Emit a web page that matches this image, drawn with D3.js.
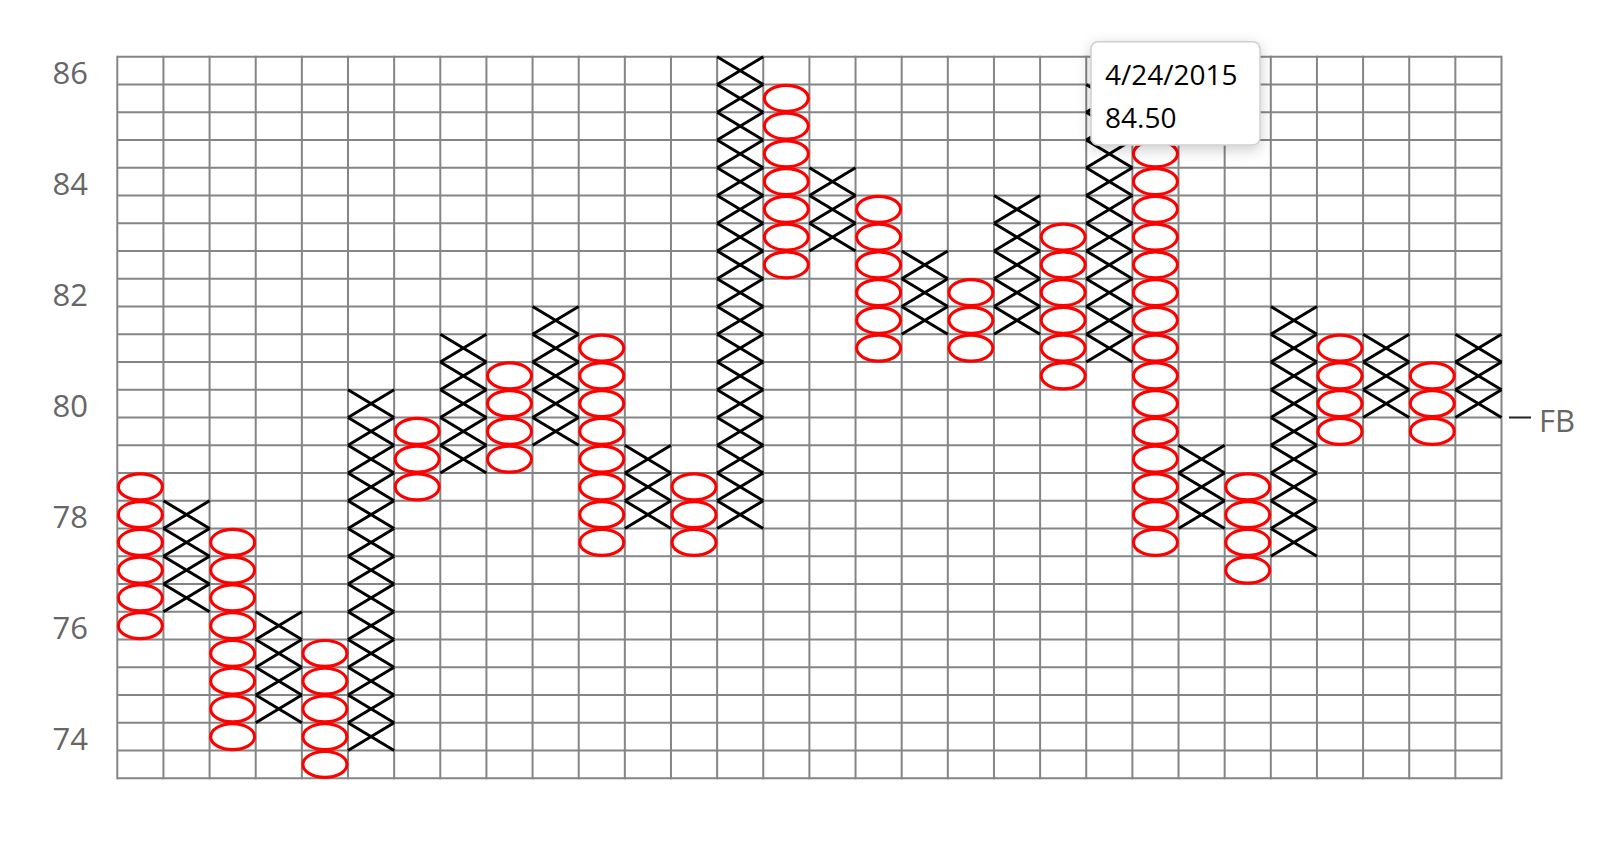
<!DOCTYPE html>
<html>
<head>
<meta charset="utf-8">
<script src="https://cdn.jsdelivr.net/npm/d3@7/dist/d3.min.js"></script>
<style>
  html, body { margin: 0; padding: 0; background: #fff; }
  svg { display: block; }
  text { font-family: "Segoe UI", "Open Sans", "Noto Sans", sans-serif; }
</style>
</head>
<body>
<svg id="chart" width="1604" height="851"></svg>
<script>
// ---- data ----
const seriesName = "FB";
const boxSize = 0.5;
const columnKinds = ["O","X","O","X","O","X","O","X","O","X","O","X","O","X","O","X","O","X","O","X","O","X","O","X","O","X","O","X","O","X"];
const columnHighs = [78.5, 78, 77.5, 76, 75.5, 80, 79.5, 81, 80.5, 81.5, 81, 79, 78.5, 86, 85.5, 84, 83.5, 82.5, 82, 83.5, 83, 85.5, 85, 79, 78.5, 81.5, 81, 81, 80.5, 81];
const columnLows  = [76, 76.5, 74, 74.5, 73.5, 74, 78.5, 79, 79, 79.5, 77.5, 78, 77.5, 78, 82.5, 83, 81, 81.5, 81, 81.5, 80.5, 81, 77.5, 78, 77, 77.5, 79.5, 80, 79.5, 80];
const yTickValues = [74, 76, 78, 80, 82, 84, 86];
const yDomain = [73.25, 86.25];
const lastPrice = 79.75;
const tooltipDate = "4/24/2015";
const tooltipValue = "84.50";

// ---- layout ----
const svg = d3.select("#chart");
const plot = { left: 117.3, right: 1501.5, top: 56.7, bottom: 778.3 };

const x = d3.scaleBand()
  .domain(d3.range(columnKinds.length))
  .range([plot.left, plot.right])
  .padding(0);
const y = d3.scaleLinear().domain(yDomain).range([plot.bottom, plot.top]);
const bw = x.bandwidth();
const bh = Math.abs(y(0) - y(boxSize));

// grid
const gridVals = d3.range(Math.round((yDomain[1] - yDomain[0]) / boxSize) + 1).map(i => yDomain[0] + i * boxSize);
const grid = svg.append("g").attr("stroke", "#858585").attr("stroke-width", 2);
grid.selectAll("line.h").data(gridVals).join("line")
  .attr("x1", plot.left).attr("x2", plot.right)
  .attr("y1", d => y(d)).attr("y2", d => y(d));
const vEdges = x.domain().map(d => x(d)).concat([plot.right]);
grid.selectAll("line.v").data(vEdges).join("line")
  .attr("x1", d => d).attr("x2", d => d)
  .attr("y1", plot.top - 1).attr("y2", plot.bottom + 1);

// y axis labels
svg.append("g").selectAll("text").data(yTickValues).join("text")
  .attr("x", 88).attr("y", d => y(d) + 13.7)
  .attr("text-anchor", "end")
  .attr("font-size", 31)
  .attr("fill", "#666")
  .text(d => d);

// boxes
const boxes = [];
columnKinds.forEach((k, i) => {
  const n = Math.round((columnHighs[i] - columnLows[i]) / boxSize);
  for (let j = 0; j <= n; j++) boxes.push({ col: i, kind: k, v: columnLows[i] + j * boxSize });
});

const marks = svg.append("g");
const xs = boxes.filter(b => b.kind === "X");
const os = boxes.filter(b => b.kind === "O");

marks.selectAll("path.x").data(xs).join("path")
  .attr("fill", "none").attr("stroke", "#000").attr("stroke-width", 3)
  .attr("d", b => {
    const x0 = x(b.col), x1 = x0 + bw;
    const y0 = y(b.v + boxSize / 2), y1 = y(b.v - boxSize / 2);
    return `M${x0},${y0}L${x1},${y1}M${x1},${y0}L${x0},${y1}`;
  });

marks.selectAll("ellipse").data(os).join("ellipse")
  .attr("fill", "none").attr("stroke", "#ff0000").attr("stroke-width", 3.1)
  .attr("cx", b => x(b.col) + bw / 2)
  .attr("cy", b => y(b.v))
  .attr("rx", bw / 2 - 1.1)
  .attr("ry", bh / 2 - 0.9);

// series end label
const ly = y(lastPrice);
svg.append("line").attr("x1", 1509).attr("x2", 1531).attr("y1", ly).attr("y2", ly)
  .attr("stroke", "#222").attr("stroke-width", 2);
svg.append("text").attr("x", 1539).attr("y", ly + 14)
  .attr("font-size", 31).attr("fill", "#666").text(seriesName);

// tooltip
const defs = svg.append("defs");
const f = defs.append("filter").attr("id", "shadow").attr("x", "-20%").attr("y", "-20%").attr("width", "150%").attr("height", "160%");
f.append("feDropShadow").attr("dx", 0).attr("dy", 4).attr("stdDeviation", 7).attr("flood-color", "#000").attr("flood-opacity", 0.2);
const tip = svg.append("g");
tip.append("rect").attr("x", 1091).attr("y", 41.7).attr("width", 169).attr("height", 103.3)
  .attr("rx", 7).attr("fill", "#fff").attr("stroke", "#cfcfcf").attr("stroke-width", 1.5)
  .attr("filter", "url(#shadow)");
tip.append("text").attr("x", 1105).attr("y", 85).attr("font-size", 28).attr("fill", "#000").text(tooltipDate);
tip.append("text").attr("x", 1105).attr("y", 128.3).attr("font-size", 28).attr("fill", "#000").text(tooltipValue);
</script>
</body>
</html>
